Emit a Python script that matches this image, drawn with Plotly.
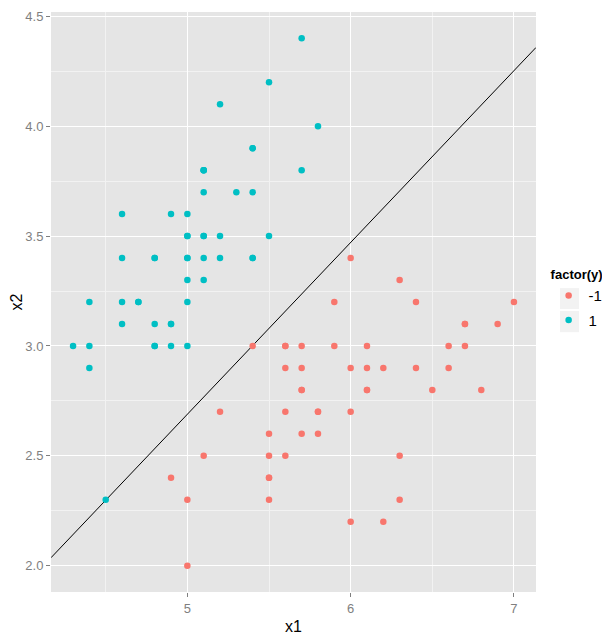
import plotly.graph_objects as go

# iris sepal length (x1) / sepal width (x2): setosa -> 1, versicolor -> -1
x1_pos = [5.1, 4.9, 4.7, 4.6, 5.0, 5.4, 4.6, 5.0, 4.4, 4.9, 5.4, 4.8, 4.8, 4.3, 5.8, 5.7, 5.4,
          5.1, 5.7, 5.1, 5.4, 5.1, 4.6, 5.1, 4.8, 5.0, 5.0, 5.2, 5.2, 4.7, 4.8, 5.4, 5.2, 5.5,
          4.9, 5.0, 5.5, 4.9, 4.4, 5.1, 5.0, 4.5, 4.4, 5.0, 5.1, 4.8, 5.1, 4.6, 5.3, 5.0]
x2_pos = [3.5, 3.0, 3.2, 3.1, 3.6, 3.9, 3.4, 3.4, 2.9, 3.1, 3.7, 3.4, 3.0, 3.0, 4.0, 4.4, 3.9,
          3.5, 3.8, 3.8, 3.4, 3.7, 3.6, 3.3, 3.4, 3.0, 3.4, 3.5, 3.4, 3.2, 3.1, 3.4, 4.1, 4.2,
          3.1, 3.2, 3.5, 3.6, 3.0, 3.4, 3.5, 2.3, 3.2, 3.5, 3.8, 3.0, 3.8, 3.2, 3.7, 3.3]
x1_neg = [7.0, 6.4, 6.9, 5.5, 6.5, 5.7, 6.3, 4.9, 6.6, 5.2, 5.0, 5.9, 6.0, 6.1, 5.6, 6.7, 5.6,
          5.8, 6.2, 5.6, 5.9, 6.1, 6.3, 6.1, 6.4, 6.6, 6.8, 6.7, 6.0, 5.7, 5.5, 5.5, 5.8, 6.0,
          5.4, 6.0, 6.7, 6.3, 5.6, 5.5, 5.5, 6.1, 5.8, 5.0, 5.6, 5.7, 5.7, 6.2, 5.1, 5.7]
x2_neg = [3.2, 3.2, 3.1, 2.3, 2.8, 2.8, 3.3, 2.4, 2.9, 2.7, 2.0, 3.0, 2.2, 2.9, 2.9, 3.1, 3.0,
          2.7, 2.2, 2.5, 3.2, 2.8, 2.5, 2.8, 2.9, 3.0, 2.8, 3.0, 2.9, 2.6, 2.4, 2.4, 2.7, 2.7,
          3.0, 3.4, 3.1, 2.3, 3.0, 2.5, 2.6, 3.0, 2.6, 2.3, 2.7, 3.0, 2.9, 2.9, 2.5, 2.8]

# separating line (abline)
slope = 0.782
intercept = -1.221

# ggplot-style 5% expansion of the data range
all_x = x1_pos + x1_neg
all_y = x2_pos + x2_neg
dx = (max(all_x) - min(all_x)) * 0.05
dy = (max(all_y) - min(all_y)) * 0.05
xr = [min(all_x) - dx, max(all_x) + dx]
yr = [min(all_y) - dy, max(all_y) + dy]

fig = go.Figure()
fig.add_trace(go.Scatter(x=xr, y=[intercept + slope * v for v in xr], mode="lines",
                         line=dict(color="black", width=1), showlegend=False, hoverinfo="skip"))
fig.add_trace(go.Scatter(x=x1_neg, y=x2_neg, mode="markers", name="-1", legendgroup="a",
                         marker=dict(color="#F8766D", size=6.5)))
fig.add_trace(go.Scatter(x=x1_pos, y=x2_pos, mode="markers", name="1", legendgroup="b",
                         marker=dict(color="#00BFC4", size=6.5)))

axis_common = dict(
    showgrid=True, gridcolor="white", gridwidth=1.1, zeroline=False, automargin=False,
    ticks="outside", ticklen=4, tickcolor="#7F7F7F", tickwidth=1,
    tickfont=dict(family="Liberation Sans, Arial", size=13, color="#7F7F7F"),
    showline=False,
)
fig.update_xaxes(range=xr, tickvals=[5, 6, 7], ticktext=["5", "6", "7"],
                 minor=dict(tickvals=[4.5, 5.5, 6.5], gridcolor="#F2F2F2", gridwidth=0.6, ticks=""),
                 title=dict(text="x1", font=dict(family="Liberation Sans, Arial", size=16, color="black"),
                            standoff=6),
                 **axis_common)
fig.update_yaxes(range=yr, tickvals=[2.0, 2.5, 3.0, 3.5, 4.0, 4.5],
                 ticktext=["2.0", "2.5", "3.0", "3.5", "4.0", "4.5"],
                 minor=dict(tickvals=[2.25, 2.75, 3.25, 3.75, 4.25], gridcolor="#F2F2F2",
                            gridwidth=0.6, ticks=""),
                 title=dict(text="x2", font=dict(family="Liberation Sans, Arial", size=16, color="black"),
                            standoff=0),
                 **axis_common)

# grey legend key backgrounds like ggplot
for y0, y1 in [(0.488, 0.524), (0.448, 0.4845)]:
    fig.add_shape(type="rect", xref="paper", yref="paper", x0=1.0495, x1=1.0887, y0=y0, y1=y1,
                  fillcolor="#F2F2F2", line=dict(width=0), layer="below")

# the page body adds an 8px offset, so margins are trimmed on the left/top
fig.update_layout(
    width=610, height=636,
    margin=dict(l=43, r=82, t=4, b=52),
    plot_bgcolor="#E5E5E5", paper_bgcolor="white",
    legend=dict(x=1.026, y=0.5685, xanchor="left", yanchor="top", tracegroupgap=2,
                title=dict(text="<b>factor(y)</b>", font=dict(family="Liberation Sans, Arial", size=13)),
                font=dict(family="Liberation Sans, Arial", size=15, color="black"),
                bgcolor="rgba(0,0,0,0)", itemwidth=30),
)

fig.write_html("out.html")
